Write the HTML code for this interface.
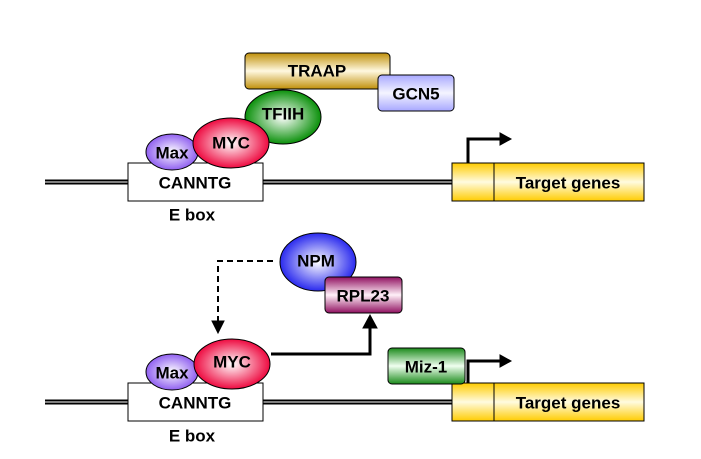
<!DOCTYPE html>
<html><head><style>body{margin:0;background:#fff}svg{display:block}text{font-family:"Liberation Sans",Arial,sans-serif;font-weight:bold;font-size:17px;text-anchor:middle;dominant-baseline:central;fill:#000}</style></head><body>
<svg width="701" height="459" viewBox="0 0 701 459" xmlns="http://www.w3.org/2000/svg">
<defs>
<linearGradient id="gold" x1="0" y1="0" x2="0" y2="1"><stop offset="0" stop-color="#c0900a"/><stop offset=".5" stop-color="#fff8e0"/><stop offset="1" stop-color="#c0900a"/></linearGradient>
<linearGradient id="yel" x1="0" y1="0" x2="0" y2="1"><stop offset="0" stop-color="#ffcc00"/><stop offset=".5" stop-color="#fffbe0"/><stop offset="1" stop-color="#ffcc00"/></linearGradient>
<linearGradient id="lav" x1="0" y1="0" x2="0" y2="1"><stop offset="0" stop-color="#a8a8ff"/><stop offset=".5" stop-color="#f4f4ff"/><stop offset="1" stop-color="#a8a8ff"/></linearGradient>
<linearGradient id="grn" x1="0" y1="0" x2="0" y2="1"><stop offset="0" stop-color="#1a8a1a"/><stop offset=".5" stop-color="#f0fff0"/><stop offset="1" stop-color="#1a8a1a"/></linearGradient>
<linearGradient id="mag" x1="0" y1="0" x2="0" y2="1"><stop offset="0" stop-color="#901060"/><stop offset=".5" stop-color="#fff0f8"/><stop offset="1" stop-color="#901060"/></linearGradient>
<radialGradient id="rmax"><stop offset="0" stop-color="#fff"/><stop offset="1" stop-color="#9060f0"/></radialGradient>
<radialGradient id="rmyc"><stop offset="0" stop-color="#fff"/><stop offset="1" stop-color="#ee0a40"/></radialGradient>
<radialGradient id="rtf"><stop offset="0" stop-color="#fff"/><stop offset="1" stop-color="#0a900a"/></radialGradient>
<radialGradient id="rnpm"><stop offset="0" stop-color="#fff"/><stop offset="1" stop-color="#2a2aee"/></radialGradient>
</defs>
<g stroke="#000">
<rect x="45" y="179.5" width="407" height="5" fill="#000" stroke="none"/><line x1="45" y1="182" x2="452" y2="182" stroke="#fff" stroke-width="1"/>
<rect x="128" y="163" width="135" height="38" fill="#fff"/>
<rect x="452" y="163" width="192" height="38" fill="url(#yel)"/><line x1="494" y1="163" x2="494" y2="201"/>
<polyline points="468,163 468,139 502,139" fill="none" stroke-width="3"/><polygon points="500,133 511,139 500,145" fill="#000"/>
<rect x="245" y="53" width="145" height="36" rx="4" fill="url(#gold)"/>
<rect x="378" y="75" width="76" height="36" rx="4" fill="url(#lav)"/>
<ellipse cx="283" cy="117" rx="38" ry="27" fill="url(#rtf)"/>
<ellipse cx="172" cy="152" rx="26" ry="18" fill="url(#rmax)"/>
<ellipse cx="231" cy="143" rx="38" ry="25" fill="url(#rmyc)"/>
<rect x="45" y="399.5" width="407" height="5" fill="#000" stroke="none"/><line x1="45" y1="402" x2="452" y2="402" stroke="#fff" stroke-width="1"/>
<rect x="128" y="383" width="135" height="38" fill="#fff"/>
<rect x="452" y="383" width="192" height="38" fill="url(#yel)"/><line x1="494" y1="383" x2="494" y2="421"/>
<rect x="388" y="348" width="77" height="36" rx="4" fill="url(#grn)"/>
<polyline points="468,383 468,361 502,361" fill="none" stroke-width="3"/><polygon points="500,355 511,361 500,367" fill="#000"/>
<polyline points="273,261 218,261 218,322" fill="none" stroke-width="2" stroke-dasharray="6,4"/><polygon points="212,321 224,321 218,333" fill="#000"/>
<polyline points="271,354 370,354 370,326" fill="none" stroke-width="3"/><polygon points="363,328 377,328 370,315" fill="#000"/>
<ellipse cx="318" cy="262" rx="38" ry="29" fill="url(#rnpm)"/>
<rect x="325" y="277" width="77" height="36" rx="4" fill="url(#mag)"/>
<ellipse cx="172" cy="372" rx="26" ry="18" fill="url(#rmax)"/>
<ellipse cx="232" cy="364" rx="38" ry="25" fill="url(#rmyc)"/>
</g>
<text x="195" y="183">CANNTG</text><text x="192" y="215">E box</text>
<text x="568" y="183">Target genes</text>
<text x="317" y="71">TRAAP</text><text x="416" y="94">GCN5</text>
<text x="283" y="114">TFIIH</text><text x="172" y="153">Max</text><text x="231" y="143">MYC</text>
<text x="195" y="403">CANNTG</text><text x="192" y="436">E box</text>
<text x="568" y="403">Target genes</text>
<text x="426" y="367">Miz-1</text>
<text x="316" y="261">NPM</text><text x="363" y="296">RPL23</text>
<text x="172" y="373">Max</text><text x="232" y="362">MYC</text>
</svg>
</body></html>
